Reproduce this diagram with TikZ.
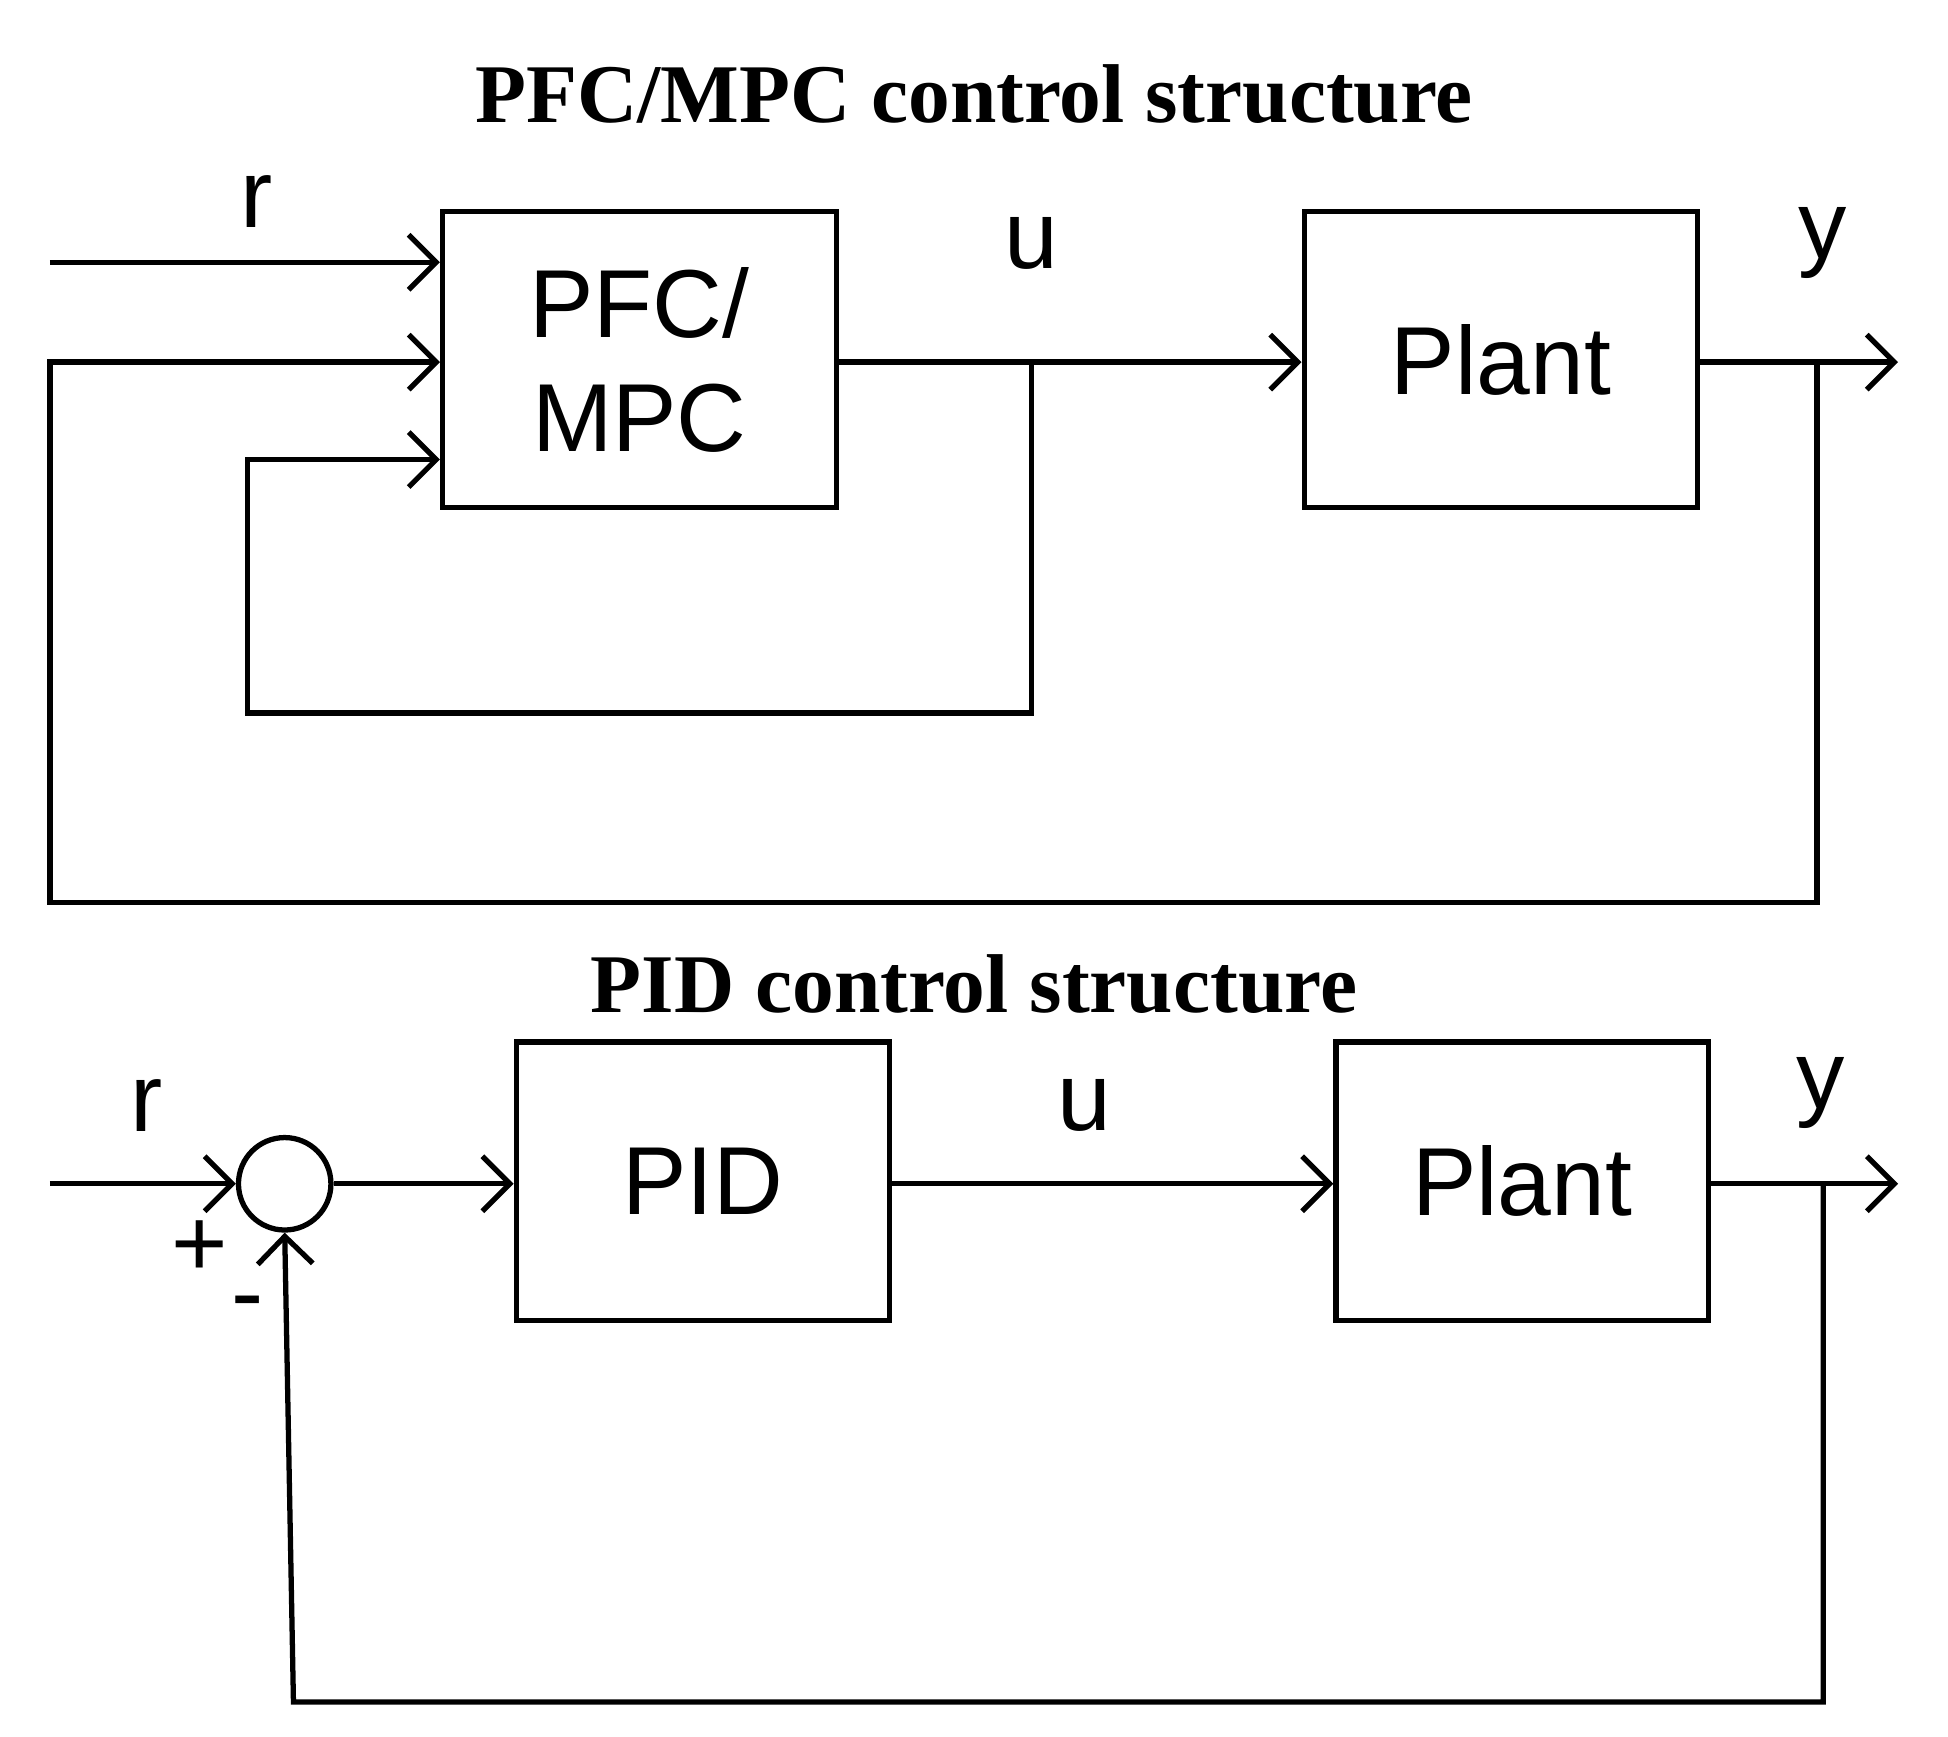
\documentclass[tikz,border=0pt]{standalone}
\usepackage{fontspec}
\setmainfont{Liberation Sans}
\newfontfamily\titlefont{Liberation Serif}
\usetikzlibrary{arrows.meta,positioning}
\tikzset{
  blk/.style={draw, line width=1.2pt, inner sep=0pt, font=\fontsize{22}{26}\selectfont},
  sig/.style={line width=1.2pt},
  arr/.style={sig, -{Straight Barb[length=2.2mm,width=4.4mm,line width=1.2pt]}},
  lbl/.style={font=\fontsize{22}{26}\selectfont},
  ttl/.style={font=\titlefont\bfseries\fontsize{19}{22}\selectfont}
}
\begin{document}
\begin{tikzpicture}[x=0.01cm,y=-0.01cm]
    \useasboundingbox (0,0) rectangle (1560,1391);
    % PFC/MPC structure
    \node[ttl] (t1) at (780,75) {PFC/MPC control structure};
    \node[blk, minimum width=3.15cm, minimum height=2.37cm, align=center] (mpc) at (512,288) {PFC/\\MPC};
    \node[blk, minimum width=3.15cm, minimum height=2.37cm] (plant1) at (1202,288) {Plant};
    \coordinate (rin1) at (40,210);
    \coordinate (yin1) at (40,290);
    \coordinate (uj) at (826,290);
    \coordinate (yj1) at (1455,290);
    \coordinate (yout1) at (1520,290);
    \coordinate (ufb) at (198,368);
    \draw[arr] (rin1) -- (rin1 -| mpc.west) node[lbl, pos=0.53, above=4pt] {r};
    \draw[arr] (mpc.east |- uj) -- (plant1.west |- uj);
    \node[lbl] (u1) at (826,195) {u};
    \draw[arr] (plant1.east |- yj1) -- (yout1);
    \node[lbl] (y1) at (1460,195) {y};
    \draw[arr] (yj1) -- (1455,723) -- (40,723) -- (yin1) -- (yin1 -| mpc.west);
    \draw[arr] (uj) -- (826,571) -- (198,571) -- (ufb) -- (ufb -| mpc.west);

    % PID structure
    \node[ttl] (t2) at (780,788) {PID control structure};
    \node[draw, circle, line width=1.2pt, minimum size=0.74cm, inner sep=0pt] (sum) at (228,948) {};
    \node[blk, minimum width=2.99cm, minimum height=2.23cm] (pid) at (563,946) {PID};
    \node[blk, minimum width=2.98cm, minimum height=2.23cm] (plant2) at (1219,946) {Plant};
    \coordinate (rin2) at (40,948);
    \coordinate (yj2) at (1460,948);
    \coordinate (yout2) at (1520,948);
    \draw[arr] (rin2) -- (sum.west);
    \node[lbl] (r2) at (117,885) {r};
    \node[lbl] (plus) at (160,1000) {+};
    \node[lbl] (minus) at (198,1050) {-};
    \draw[arr] (sum.east) -- (pid.west |- sum.east);
    \draw[arr] (pid.east |- yj2) -- (plant2.west |- yj2);
    \node[lbl] (u2) at (868,885) {u};
    \draw[arr] (plant2.east |- yj2) -- (yout2);
    \node[lbl] (y2) at (1458,875) {y};
    \draw[arr] (yj2) -- (1460,1363) -- (235,1363) -- (sum.south);
\end{tikzpicture}
\end{document}
